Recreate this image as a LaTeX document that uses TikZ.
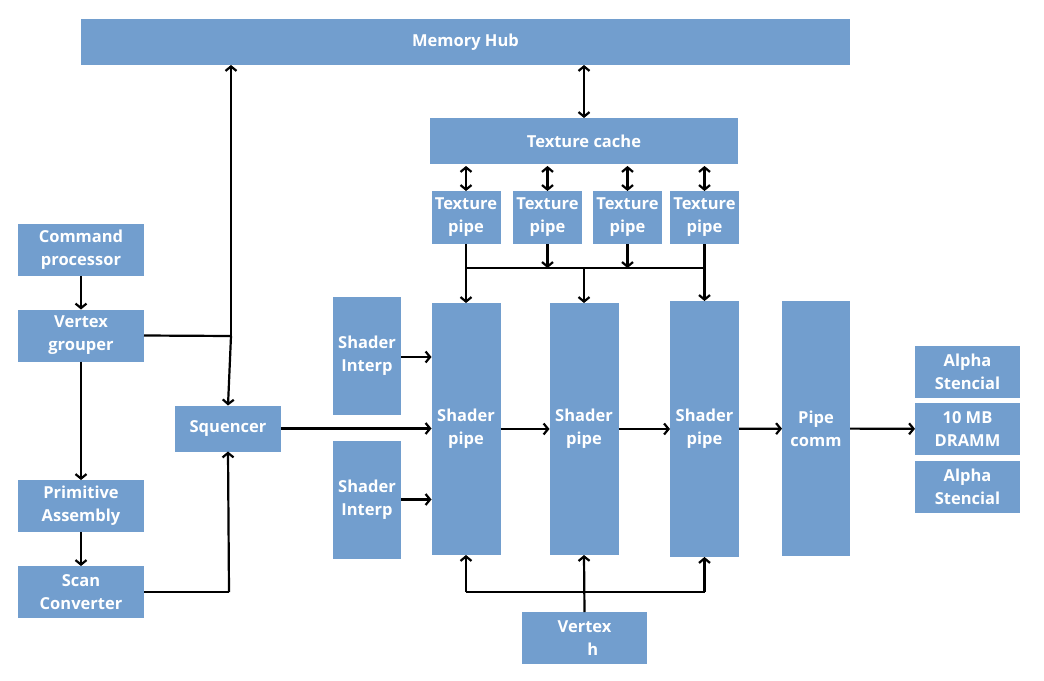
\documentclass[tikz,border=0pt]{standalone}
\usepackage{fontspec}
\setmainfont{Open Sans}
\usepackage{tikz}
\usetikzlibrary{arrows.meta,positioning,calc}
\definecolor{blockblue}{RGB}{114, 158, 206}

\begin{document}
\begin{tikzpicture}[
    x=1pt, y=-1pt,
    block/.style={
      rectangle,
      fill=blockblue,
      text=white,
      align=center,
      inner sep=0pt,
      outer sep=0pt,
      font=\bfseries\fontsize{16.5}{23}\selectfont
    },
    block_wide/.style={block, minimum width=126pt, minimum height=52pt},
    block_tex/.style={block, minimum width=69pt, minimum height=53pt},
    block_shader/.style={block, minimum width=69pt, minimum height=252pt},
    block_interp/.style={block, minimum width=68pt, minimum height=118pt},
    block_mem/.style={block, minimum width=105pt, minimum height=52pt},
    line/.style={draw, line width=2.2pt, -{Straight Barb[length=4.5pt,width=11pt]}},
    dline/.style={draw, line width=2.2pt, {Straight Barb[length=4.5pt,width=11pt]}-{Straight Barb[length=4.5pt,width=11pt]}},
    wire/.style={draw, line width=2.2pt}
  ]
  \useasboundingbox (0,0) rectangle (1044,680);

  % Nodes
  \node [block, minimum width=769pt, minimum height=46pt] (memhub) at (465.5,42) {Memory Hub};
  \node [block, minimum width=308pt, minimum height=46pt] (texcache) at (584,141) {Texture cache};

  \node [block_tex] (tpipe1) at (466,217.5) {Texture\\pipe};
  \node [block_tex] (tpipe2) at (547.5,217.5) {Texture\\pipe};
  \node [block_tex] (tpipe3) at (627.5,217.5) {Texture\\pipe};
  \node [block_tex] (tpipe4) at (704.5,217.5) {Texture\\pipe};

  \node [block_wide] (cmdproc) at (81,250) {Command\\processor};
  \node [block_wide] (vgrouper) at (81,335.5) {Vertex\\grouper};
  \node [block_wide] (primasm) at (81,506) {Primitive\\Assembly};
  \node [block_wide] (scanconv) at (81,592) {Scan\\Converter};

  \node [block, minimum width=106pt, minimum height=46pt] (sequencer) at (228,428.5) {Squencer};

  \node [block_interp] (interp1) at (367,356) {Shader\\Interp};
  \node [block_interp] (interp2) at (367,499.5) {Shader\\Interp};

  \node [block_shader] (spipe1) at (466,429) {Shader\\pipe};
  \node [block_shader] (spipe2) at (584,429) {Shader\\pipe};
  \node [block_shader, minimum height=256pt] (spipe3) at (704.5,429) {Shader\\pipe};
  \node [block_shader, minimum width=68pt, minimum height=255pt] (pipecomm) at (816,428.5) {Pipe\\comm};

  \node [block_mem] (alpha1) at (967.5,372) {Alpha\\Stencial};
  \node [block_mem] (dramm) at (967.5,429) {10 MB\\DRAMM};
  \node [block_mem] (alpha2) at (967.5,487) {Alpha\\Stencial};

  \node [block, minimum width=125pt, minimum height=52pt] (vertexh) at (584.5,638) {Vertex\\\hspace*{1em}h};

  \coordinate (vgjoin) at (231,336);
  \coordinate (scjoin) at (229,592);
  \coordinate (texbus) at (466,268);
  \coordinate (vtxbus) at (466,592);

  % Arrows
  \draw[dline] (memhub.south -| texcache) -- (texcache.north);
  \foreach \i in {1,...,4}
    \draw[dline] (tpipe\i.north |- texcache.south) ++(0,2) -- (tpipe\i.north);

  \draw[wire] (tpipe1.south) -- (tpipe1.south |- texbus);
  \draw[line] (tpipe2.south) -- (tpipe2.south |- texbus);
  \draw[line] (tpipe3.south) -- (tpipe3.south |- texbus);
  \draw[wire] (tpipe4.south) -- (tpipe4.south |- texbus);
  \draw[wire] (texbus) -- (texbus -| tpipe4);
  \draw[line] (texbus) -- (spipe1.north);
  \draw[line] (texbus -| spipe2) -- (spipe2.north);
  \draw[line] (texbus -| spipe3) -- (spipe3.north);

  \draw[line] (cmdproc) -- (vgrouper);
  \draw[line] (vgrouper) -- (primasm);
  \draw[line] (primasm) -- (scanconv);

  \draw[wire] (vgrouper.east) -- (vgjoin);
  \draw[line] (vgjoin) -- (vgjoin |- memhub.south);
  \draw[line] (vgjoin) -- (sequencer.north);
  \draw[wire] (scanconv.east) -- (scjoin);
  \draw[line] (scjoin) -- (sequencer.south);

  \draw[line] (sequencer.east) -- (sequencer.east -| spipe1.west);
  \draw[line] (interp1.east) ++(0,1) -- ($(spipe1.west |- interp1.east)+(0,1)$);
  \draw[line] (interp2.east) -- (spipe1.west |- interp2.east);

  \draw[line] (spipe1) -- (spipe2);
  \draw[line] (spipe2) -- (spipe3);
  \draw[line] (spipe3) -- (pipecomm);
  \draw[line] (pipecomm) -- (dramm);

  \draw[line] (vertexh.north) -- (spipe2.south);
  \draw[wire] (vtxbus) -- (vtxbus -| spipe3);
  \draw[line] (vtxbus) -- (spipe1.south);
  \draw[line] (vtxbus -| spipe3) -- (spipe3.south);

\end{tikzpicture}
\end{document}
